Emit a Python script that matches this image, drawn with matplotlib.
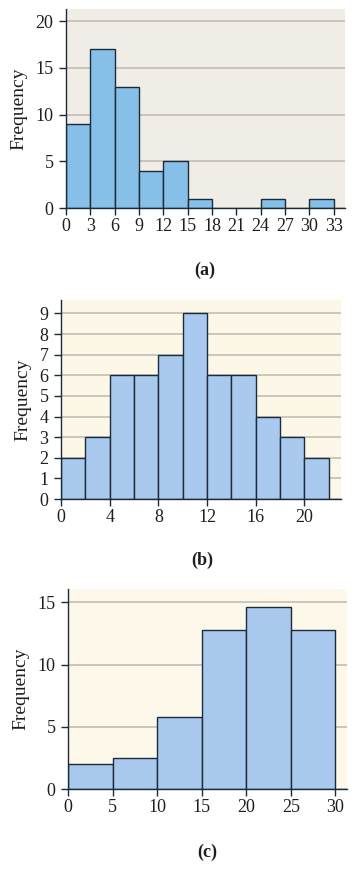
import matplotlib
matplotlib.use("Agg")
import matplotlib.pyplot as plt
import numpy as np

plt.rcParams['font.family'] = ['Liberation Serif', 'DejaVu Serif']

# Panel (a)
a_edges = [0, 3, 6, 9, 12, 15, 18, 21, 24, 27, 30, 33]
a_counts = [9, 17, 13, 4, 5, 1, 0, 0, 1, 0, 1]
a_xticks = [0, 3, 6, 9, 12, 15, 18, 21, 24, 27, 30, 33]
a_yticks = [0, 5, 10, 15, 20]

# Panel (b)
b_edges = [0, 2, 4, 6, 8, 10, 12, 14, 16, 18, 20, 22]
b_counts = [2, 3, 6, 6, 7, 9, 6, 6, 4, 3, 2]
b_xticks = [0, 4, 8, 12, 16, 20]
b_yticks = [0, 1, 2, 3, 4, 5, 6, 7, 8, 9]

# Panel (c)
c_edges = [0, 5, 10, 15, 20, 25, 30]
c_counts = [2.0, 2.5, 5.8, 12.8, 14.6, 12.8]
c_xticks = [0, 5, 10, 15, 20, 25, 30]
c_yticks = [0, 5, 10, 15]

labels = ["(a)", "(b)", "(c)"]

W, H = 356, 888
fig = plt.figure(figsize=(W / 100, H / 100), dpi=100)

edge_col = "#1c2b3a"
grid_col = "#c2beb6"
txt_col = "#1e1e1e"

panels = [
    dict(edges=a_edges, counts=a_counts, xt=a_xticks, yt=a_yticks,
         box=(66, 9, 345, 208), xlim=(0, 34.4), ylim=(0, 21.3),
         bg="#f0ece6", bar="#86bfe8", lab_x=205, lab_y=270, lab=labels[0]),
    dict(edges=b_edges, counts=b_counts, xt=b_xticks, yt=b_yticks,
         box=(61, 300, 341, 499), xlim=(0, 23.0), ylim=(0, 9.65),
         bg="#fdf7e8", bar="#a9c9ef", lab_x=202, lab_y=560, lab=labels[1]),
    dict(edges=c_edges, counts=c_counts, xt=c_xticks, yt=c_yticks,
         box=(68, 589, 347, 789), xlim=(0, 31.3), ylim=(0, 16.07),
         bg="#fdf8ea", bar="#a8c8ee", lab_x=207, lab_y=852, lab=labels[2]),
]

for p in panels:
    l, t, r, b = p["box"]
    ax = fig.add_axes([l / W, 1 - b / H, (r - l) / W, (b - t) / H])
    ax.set_facecolor(p["bg"])
    edges = np.array(p["edges"], dtype=float)
    widths = np.diff(edges)
    counts = np.array(p["counts"], dtype=float)
    mask = counts > 0
    ax.bar(edges[:-1][mask], counts[mask], width=widths[mask], align="edge",
           color=p["bar"], edgecolor=edge_col, linewidth=1.0, zorder=3)
    ax.set_xlim(*p["xlim"])
    ax.set_ylim(*p["ylim"])
    ax.set_xticks(p["xt"])
    ax.set_yticks(p["yt"])
    ax.set_xticklabels([str(v) for v in p["xt"]], fontsize=13)
    ax.set_yticklabels([str(v) for v in p["yt"]], fontsize=13)
    ax.yaxis.grid(True, color=grid_col, linewidth=1.2, zorder=0)
    ax.set_axisbelow(True)
    for s in ["top", "right"]:
        ax.spines[s].set_visible(False)
    for s in ["left", "bottom"]:
        ax.spines[s].set_color(edge_col)
        ax.spines[s].set_linewidth(1.0)
        ax.spines[s].set_zorder(4)
    ax.tick_params(axis="x", direction="out", length=5, width=1.0,
                   color=edge_col, pad=2, labelcolor=txt_col)
    ax.tick_params(axis="y", direction="out", length=5, width=1.0,
                   color=edge_col, pad=4, labelcolor=txt_col)
    ax.set_ylabel("Frequency", fontsize=14, color=txt_col, labelpad=6)
    fig.text(p["lab_x"] / W, 1 - p["lab_y"] / H, p["lab"],
             ha="center", va="center", fontsize=13, fontweight="bold",
             color=txt_col)

fig.savefig("out.png", dpi=100, facecolor="white")
